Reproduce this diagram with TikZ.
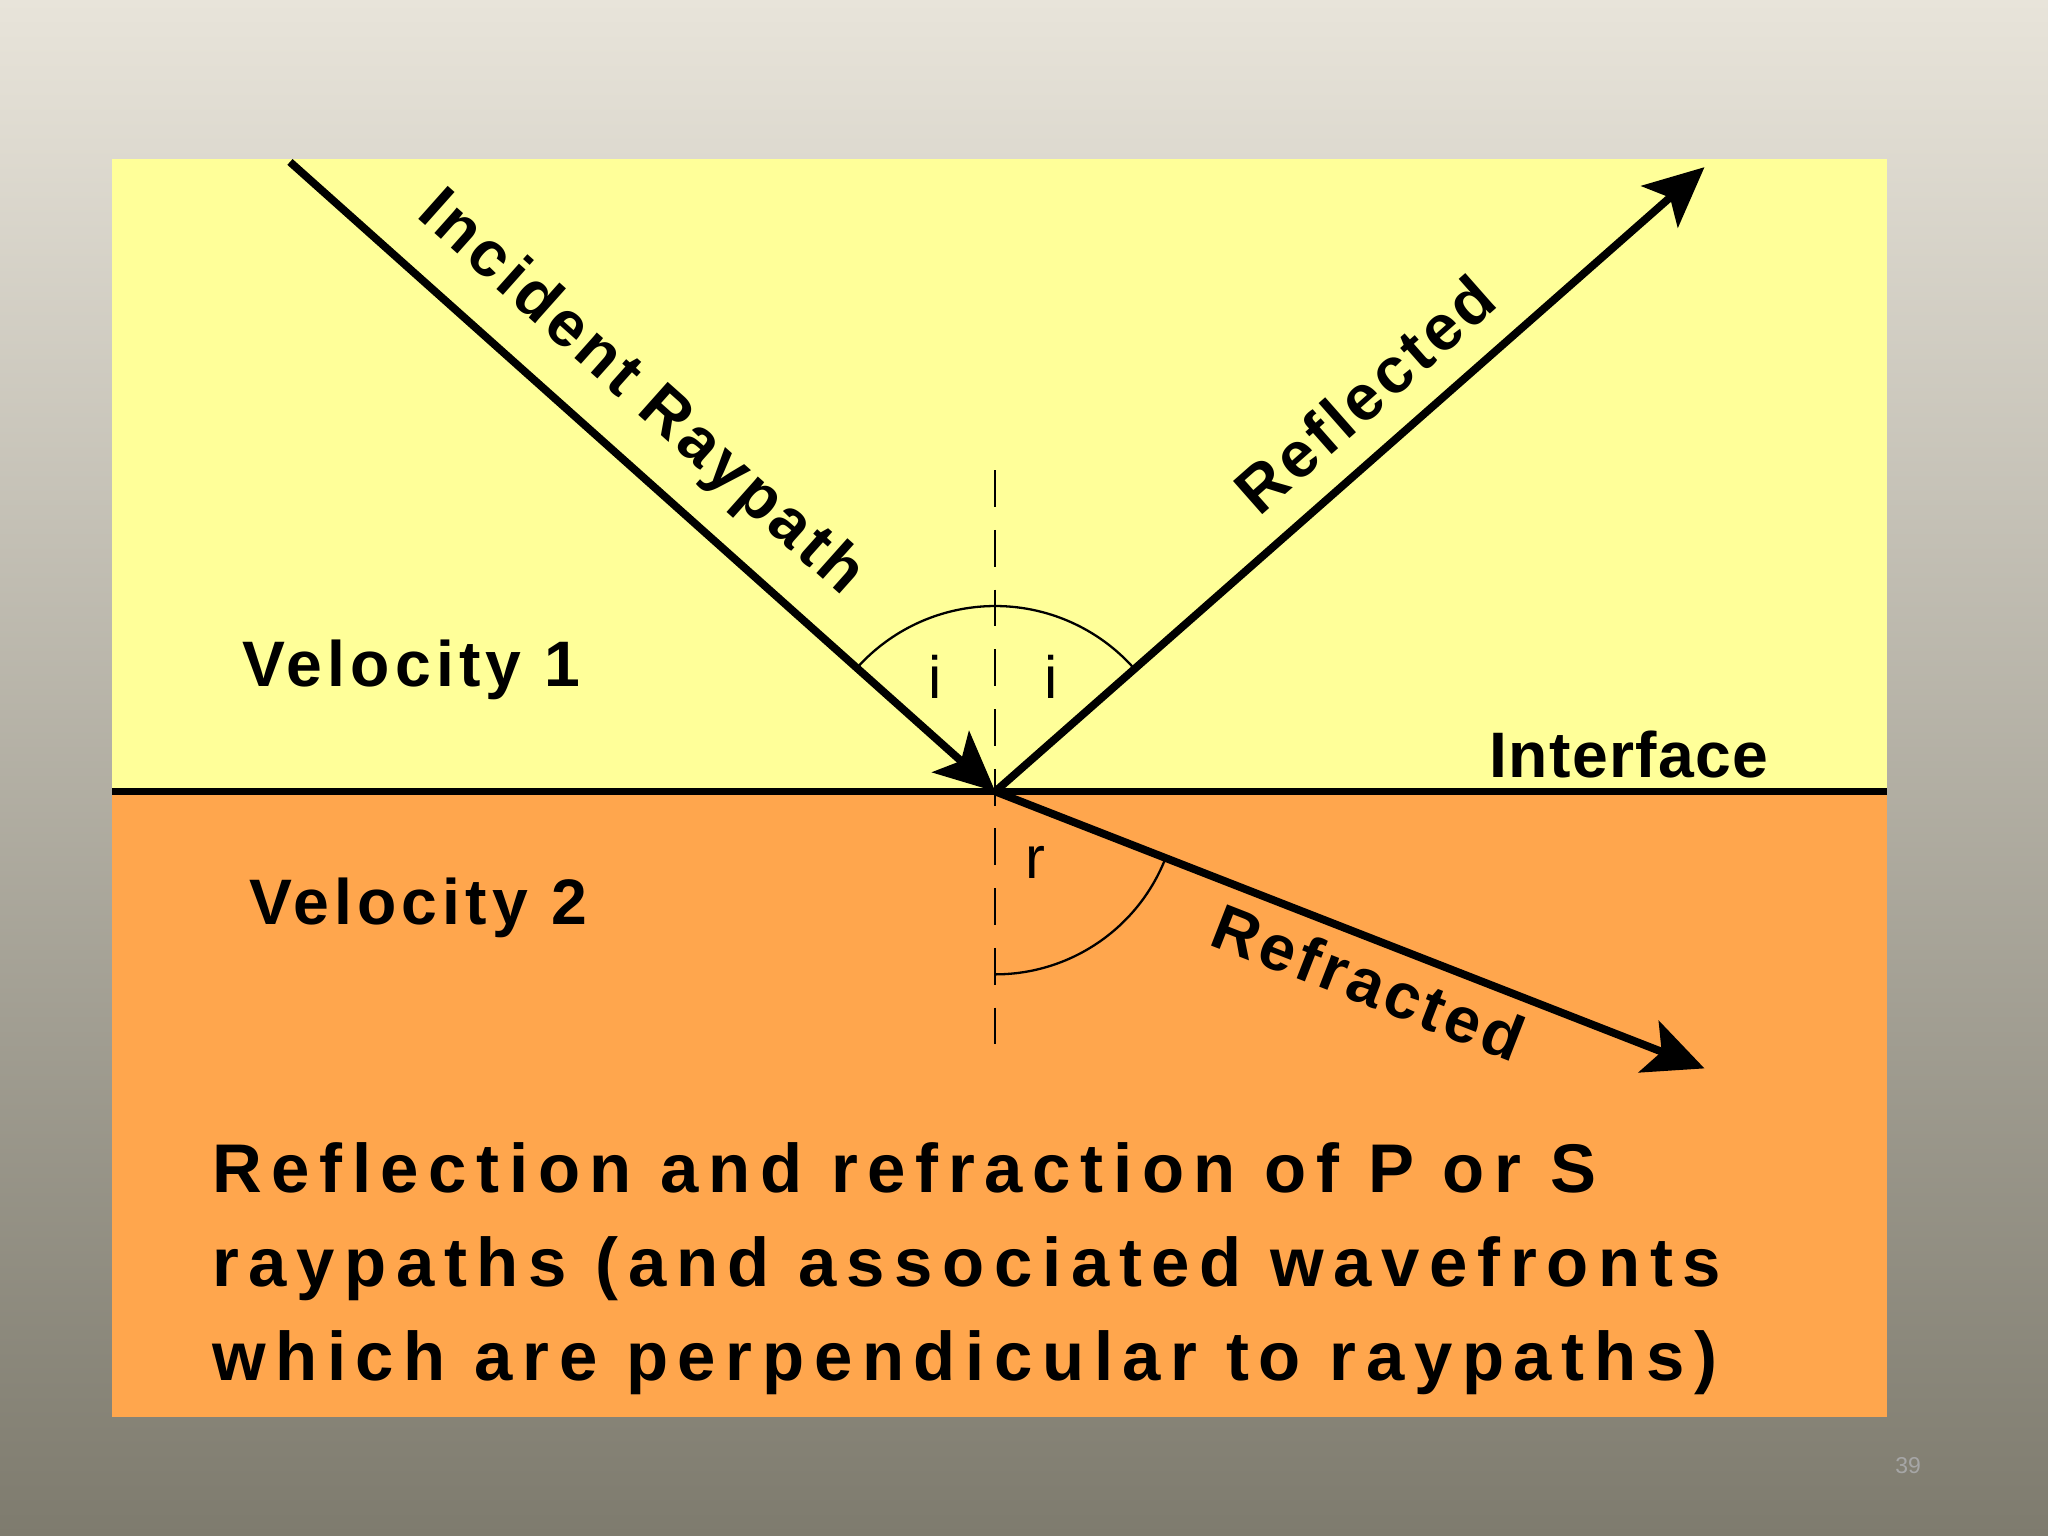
\documentclass[tikz,border=0pt]{standalone}
\usepackage{fontspec}
\setmainfont{Liberation Sans}
\usetikzlibrary{arrows.meta}
\definecolor{yel}{HTML}{FFFF99}
\definecolor{org}{HTML}{FFA64D}
\definecolor{bgtop}{HTML}{E8E4DA}
\definecolor{bgbot}{HTML}{7E7B6E}
\tikzset{ray/.style={line width=1.7pt,-{Stealth[length=13pt,width=12pt,inset=3pt]}},
 lbl/.style={font=\bfseries\fontsize{14}{16}\selectfont\addfontfeature{LetterSpace=6}},
 vel/.style={font=\bfseries\fontsize{14}{16}\selectfont\addfontfeature{LetterSpace=8}},
 thin/.style={line width=0.5pt}}
\begin{document}
\begin{tikzpicture}[x=0.01cm,y=-0.01cm]
\useasboundingbox (0,0) rectangle (1568,1176);
\shade[top color=bgtop, bottom color=bgbot] (0,0) rectangle (1568,1176);
\fill[yel] (86,122) rectangle (1445,606);
\fill[org] (86,606) rectangle (1445,1085);
\coordinate (O) at (762,606);
\coordinate (A) at (222,124);
\coordinate (B) at (1305,128);
\coordinate (C) at (1305,818);
\coordinate (L) at (86,606);
\coordinate (R) at (1445,606);
\coordinate (T) at (762,360);
\coordinate (D) at (762,808);
\draw[line width=1.5pt] (L) -- (R);
\draw[thin,dash pattern=on 8pt off 5pt] (T) -- (D);
\draw[thin] (O) ++(-41:142) arc[start angle=-41,end angle=-139,radius=142];
\draw[thin] (O) ++(90:140) arc[start angle=90,end angle=22,radius=140];
\draw[ray] (A) -- (O);
\draw[ray] (O) -- (B);
\draw[ray] (O) -- (C);
\node[font=\fontsize{13}{15}\selectfont] (i1) at (716,518) {i};
\node[font=\fontsize{13}{15}\selectfont] (i2) at (805,518) {i};
\node[font=\fontsize{13}{15}\selectfont] (r) at (793,660) {r};
\node[lbl,rotate=-41.7] (inc) at (490,302) {Incident Raypath};
\node[lbl,rotate=41.4] (refl) at (1045,302) {Reflected};
\node[lbl,rotate=-21.3] (refr) at (1048,752) {Refracted};
\node[vel] (v1) at (315,513) {Velocity 1};
\node[vel] (v2) at (320,695) {Velocity 2};
\node[vel,font=\bfseries\fontsize{14}{16}\selectfont\addfontfeature{LetterSpace=2}] (itf) at (1247,578) {Interface};
\node[anchor=north west,align=left,font=\bfseries\fontsize{15}{20.5}\selectfont\addfontfeature{LetterSpace=14}] (cap) at (150,862)
 {Reflection and refraction of P or S\\raypaths (and associated wavefronts\\which are perpendicular to raypaths)};
\node[text=gray!70,font=\fontsize{5}{6}\selectfont] (pg) at (1461,1122) {39};
\end{tikzpicture}
\end{document}
